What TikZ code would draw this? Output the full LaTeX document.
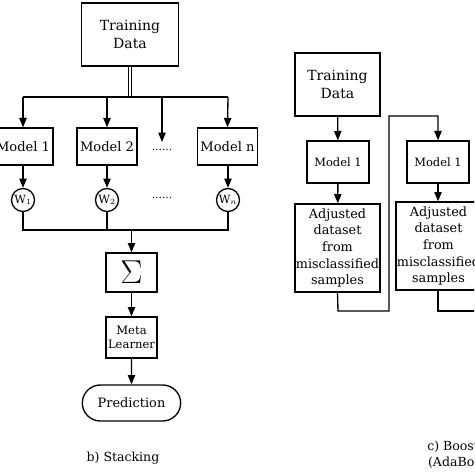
\documentclass[tikz,border=0pt]{standalone}
\usepackage{fontspec}
\setmainfont{DejaVu Serif}
\usepackage{tikz}
\usetikzlibrary{arrows.meta, positioning, shapes.misc}
\tikzset{
    box/.style={draw, rectangle, inner sep=1pt, align=center, line width=1pt},
    weight/.style={draw, circle, inner sep=0pt, minimum size=17.25pt, line width=1pt, font=\fontsize{8.5}{10}\selectfont},
    terminal/.style={draw, rounded rectangle, inner sep=1pt, line width=1pt, minimum width=75.75pt, minimum height=27pt, font=\fontsize{9.7}{12}\selectfont},
    arrow/.style={-{Stealth[length=7pt, width=5.5pt, inset=0pt]}, line width=1pt},
    wire/.style={line width=1pt}
}

\begin{document}
\begin{tikzpicture}[x=0.75pt, y=-0.75pt]
        \useasboundingbox (0,0) rectangle (474,474);
        \clip (0,0) rectangle (474,474);

        % -----------------------------------------------------------------
        % b) STACKING
        % -----------------------------------------------------------------
        \node[box, minimum width=72.75pt, minimum height=47.25pt, font=\fontsize{10.5}{13}\selectfont] (train) at (130, 34.5) {Training\\Data};

        \node[box, minimum width=45pt, minimum height=27.75pt, font=\fontsize{9.8}{12}\selectfont] (model1) at (23, 146.5) {Model 1};
        \node[box, minimum width=45pt, minimum height=27.75pt, font=\fontsize{9.8}{12}\selectfont] (model2) at (107, 146.5) {Model 2};
        \node[box, minimum width=45pt, minimum height=27.75pt, font=\fontsize{9.8}{12}\selectfont] (modeln) at (227.5, 146.5) {Model n};
        \node[font=\fontsize{8}{10}\selectfont] (dotsm) at (162, 150) {......};
        \coordinate (dotsin) at (162, 142);

        \node[weight] (w1) at (23, 200) {W$_1$};
        \node[weight] (w2) at (107, 200) {W$_2$};
        \node[weight] (wn) at (228, 200) {W$_n$};
        \node[font=\fontsize{8}{10}\selectfont] (dotsw) at (162, 198) {......};

        % bus from training data
        \coordinate (split) at (130, 97);
        \draw[wire, double, double distance=1.2pt] (train.south) -- (split);
        \draw[wire] (23, 97) -- (228, 97);
        \draw[arrow] (23, 97) -- (model1.north);
        \draw[arrow] (107, 97) -- (model2.north);
        \draw[arrow] (162, 97) -- (dotsin);
        \draw[arrow] (228, 97) -- (modeln.north);

        \draw[arrow] (model1) -- (w1);
        \draw[arrow] (model2) -- (w2);
        \draw[arrow] (modeln.south -| wn) -- (wn);

        % combine the weights
        \node[box, minimum width=38.25pt, minimum height=29.25pt, font=\fontsize{27}{30}\selectfont] (sum) at (131.5, 272.5) {$\Sigma$};
        \node[box, minimum width=38.25pt, minimum height=30.75pt, font=\fontsize{8.7}{11}\selectfont] (meta) at (131.5, 337.5) {Meta\\Learner};
        \node[terminal] (pred) at (131.5, 403) {Prediction};

        \coordinate (merge) at (131.5, 230);
        \draw[wire] (w1.south) |- (merge) -| (wn.south);
        \draw[wire] (w2.south) -- (w2.south |- merge);
        \draw[arrow] (merge) -- (sum);
        \draw[arrow] (sum) -- (meta);
        \draw[arrow] (meta) -- (pred);

        \node[font=\fontsize{9.4}{12}\selectfont] (stacklabel) at (123, 458) {b) Stacking};

        % -----------------------------------------------------------------
        % c) BOOSTING
        % -----------------------------------------------------------------
        \node[box, minimum width=63.75pt, minimum height=47.25pt, font=\fontsize{10.5}{13}\selectfont] (btrain) at (337.5, 84.5) {Training\\Data};
        \node[box, minimum width=46.5pt, minimum height=31.5pt, font=\fontsize{8.6}{11}\selectfont] (bmodel1) at (338, 162) {Model 1};
        \node[box, minimum width=63.75pt, minimum height=66pt, inner sep=0pt, font=\fontsize{9.6}{12.5}\selectfont] (badj1) at (337.5, 248) {Adjusted\\dataset\\from\\misclassified\\samples};

        \node[box, minimum width=46.5pt, minimum height=31.5pt, font=\fontsize{8.6}{11}\selectfont] (bmodel2) at (438, 162) {Model 1};
        \node[box, minimum width=63.75pt, minimum height=66pt, inner sep=0pt, font=\fontsize{9.6}{12.5}\selectfont] (badj2) at (438.5, 246) {Adjusted\\dataset\\from\\misclassified\\samples};

        \draw[arrow] (btrain) -- (bmodel1);
        \draw[arrow] (bmodel1) -- (badj1);
        \draw[arrow] (bmodel2) -- (badj2.north -| bmodel2);

        \coordinate (loopa) at (338, 311);
        \coordinate (loopb) at (389, 116);
        \coordinate (loopc) at (438, 311);
        \coordinate (loopend) at (480, 311);
        \draw[arrow] (badj1.south) -- (loopa) -| (loopb) -| (bmodel2.north);
        \draw[wire] (badj2.south -| bmodel2) -- (loopc) -- (loopend);

        \node[anchor=north west, align=center, inner sep=0pt, font=\fontsize{9.4}{11.5}\selectfont] (boostlabel) at (427, 441) {c) Boosting\\(AdaBoost)};

    \end{tikzpicture}
\end{document}
